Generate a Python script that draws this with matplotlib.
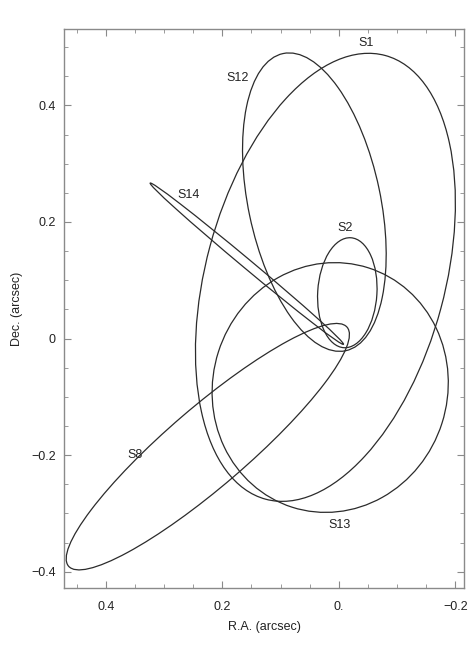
import matplotlib
matplotlib.use("Agg")
import matplotlib.pyplot as plt
from matplotlib.patches import Ellipse
from matplotlib.ticker import FixedLocator, FixedFormatter, MultipleLocator

plt.rcParams["font.family"] = ["Liberation Sans", "DejaVu Sans"]

# orbits (arcsec): centre, full axes, tilt (deg, data frame)
STARS = ["S1", "S2", "S8", "S12", "S13", "S14"]
CX = [0.023, -0.0146, 0.225, 0.042, 0.0148, 0.158]
CY = [0.105, 0.0786, -0.1855, 0.234, -0.084, 0.1284]
WIDTH = [0.4106, 0.1017, 0.630, 0.227, 0.403, 0.432]
HEIGHT = [0.7884, 0.189, 0.136, 0.521, 0.431, 0.016]
ANGLE = [15.1, 3.6, 139.4, -11.9, 17.7, 39.8]

# label positions
LAB_X = [-0.0475, -0.0103, 0.3497, 0.174, -0.0017, 0.258]
LAB_Y = [0.507, 0.189, -0.200, 0.4466, -0.320, 0.247]

XTICKS = [0.4, 0.2, 0.0, -0.2]
XTICKLABELS = ["0.4", "0.2", "0.", "\u22120.2"]
YTICKS = [-0.4, -0.2, 0.0, 0.2, 0.4]
YTICKLABELS = ["\u22120.4", "\u22120.2", "0", "0.2", "0.4"]

fig = plt.figure(figsize=(4.74, 6.61), dpi=100)
ax = fig.add_axes([0.1350, 0.1104, 0.8439, 0.8457])

line_col = "#2b2b2b"
for i, name in enumerate(STARS):
    ax.add_patch(Ellipse((CX[i], CY[i]), WIDTH[i], HEIGHT[i], angle=ANGLE[i],
                         fill=False, ec=line_col, lw=0.9))
    ax.text(LAB_X[i], LAB_Y[i], name, ha="center", va="center", fontsize=9,
            color="#222222")

ax.set_xlim(0.472, -0.215)
ax.set_ylim(-0.428, 0.531)

ax.xaxis.set_major_locator(FixedLocator(XTICKS))
ax.xaxis.set_major_formatter(FixedFormatter(XTICKLABELS))
ax.yaxis.set_major_locator(FixedLocator(YTICKS))
ax.yaxis.set_major_formatter(FixedFormatter(YTICKLABELS))
ax.xaxis.set_minor_locator(MultipleLocator(0.05))
ax.yaxis.set_minor_locator(MultipleLocator(0.05))

spine_col = "#8a8a8a"
for sp in ax.spines.values():
    sp.set_color(spine_col)
    sp.set_linewidth(1.0)
ax.tick_params(which="both", direction="in", top=True, right=True,
               color=spine_col, labelsize=9, labelcolor="#222222")
ax.tick_params(which="major", length=5, width=0.8)
ax.tick_params(which="minor", length=3, width=0.6)
ax.tick_params(axis="x", pad=9)
ax.tick_params(axis="y", pad=6)

ax.set_xlabel("R.A. (arcsec)", fontsize=9, color="#222222", labelpad=6)
ax.set_ylabel("Dec. (arcsec)", fontsize=9, color="#222222", labelpad=6)

fig.savefig("out.png", dpi=100)
